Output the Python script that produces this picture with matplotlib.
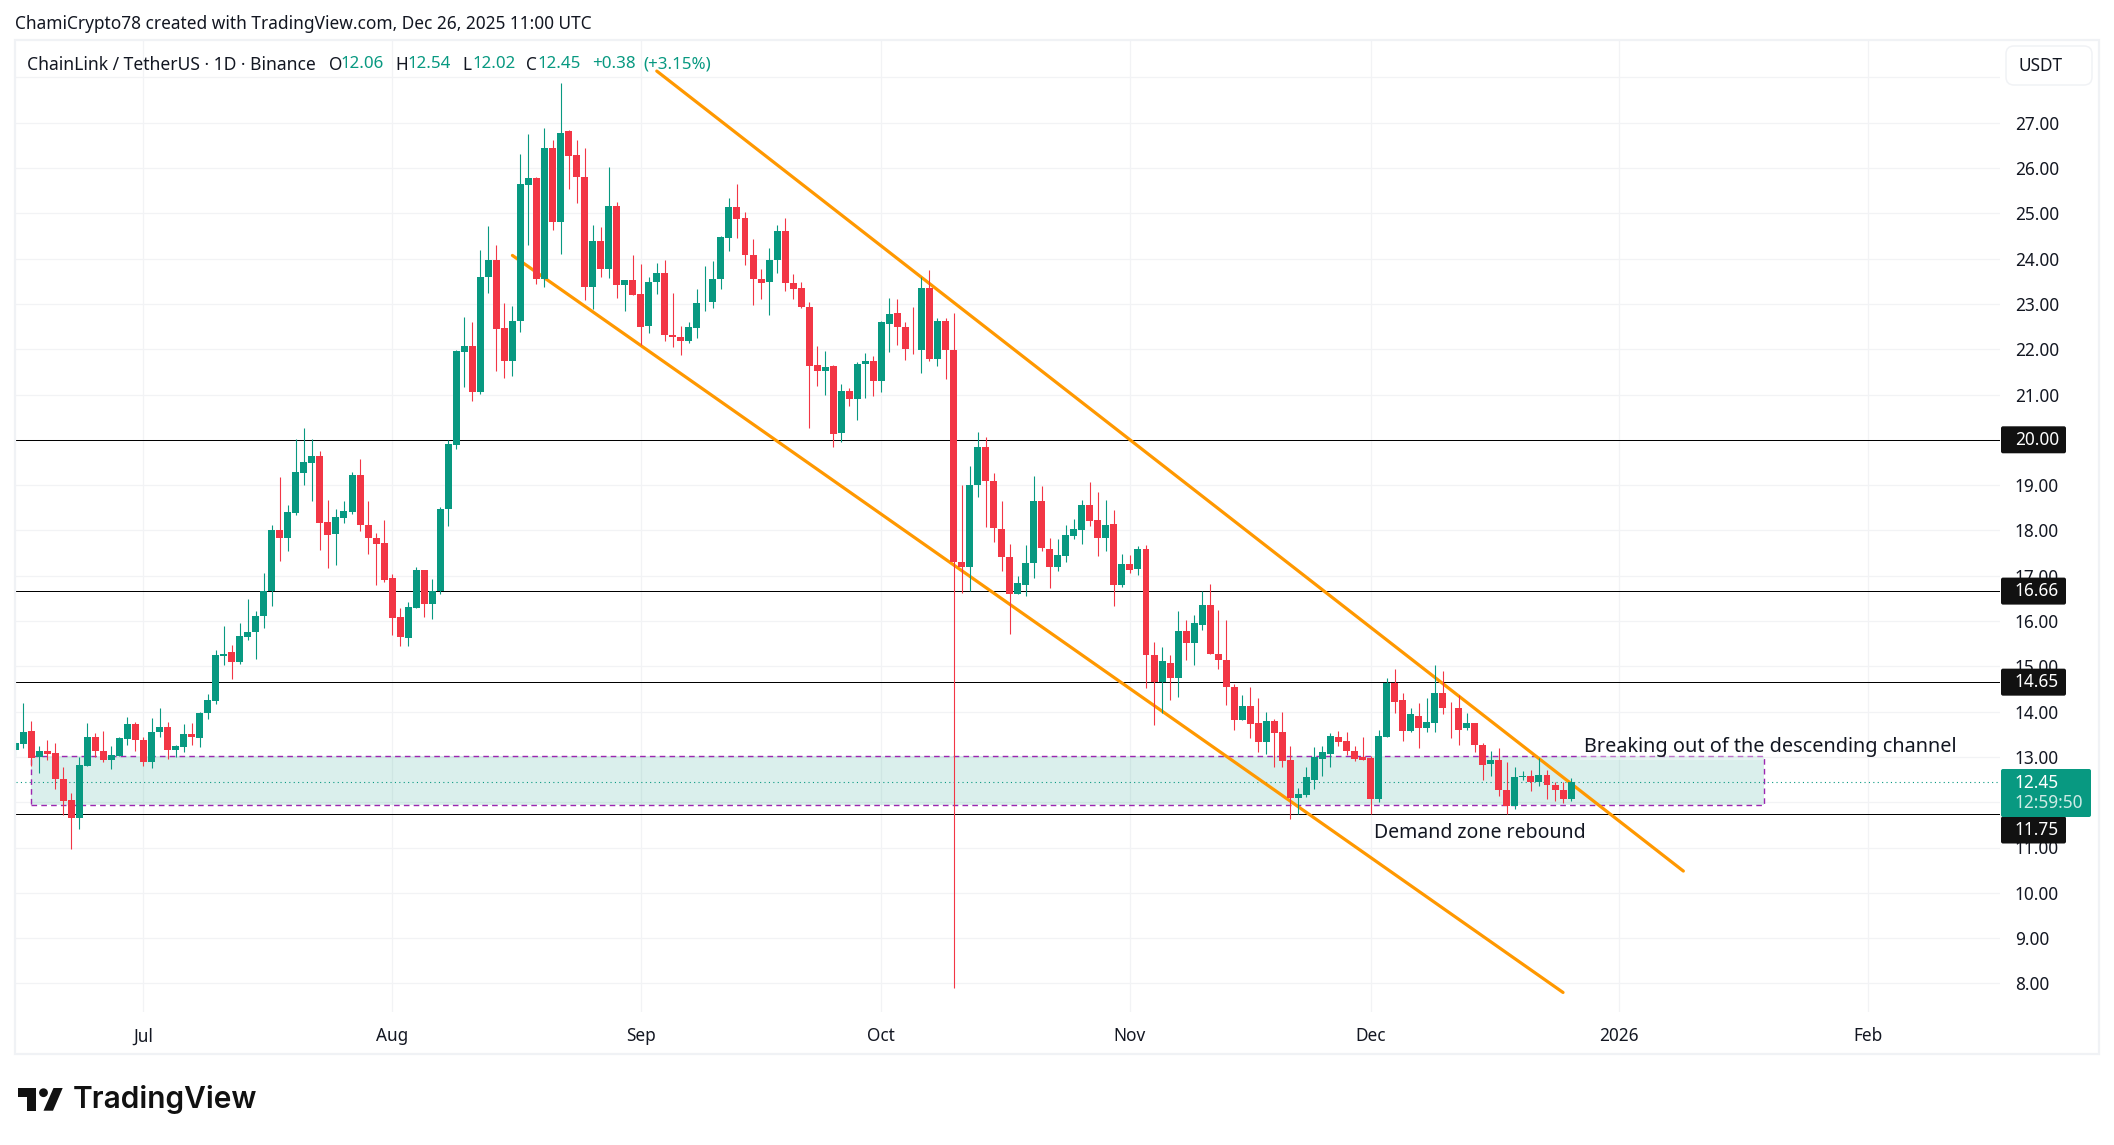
import numpy as np
import pandas as pd
import matplotlib
matplotlib.use("Agg")
import matplotlib.pyplot as plt
import matplotlib.dates as mdates
from matplotlib.patches import Rectangle, FancyBboxPatch, Circle, Polygon

plt.rcParams['font.family'] = ['Noto Sans', 'DejaVu Sans']

W, H = 2114, 1145
PX = 72 / 100  # one pixel in points at dpi 100

start_date = '2025-06-15'
end_date = '2025-12-26'

opens = [
    13.15, 13.28, 13.58, 12.99, 13.12, 13.08, 12.52, 12.04, 11.65, 12.81, 13.43, 13.14, 12.93, 13.03, 13.39, 13.72,
    13.38, 12.88, 13.55, 13.67, 13.15, 13.22, 13.50, 13.41, 13.97, 14.23, 15.22, 15.31, 15.09, 15.64, 15.75, 16.11,
    16.66, 18.00, 17.83, 18.38, 19.26, 19.48, 19.65, 18.18, 17.92, 18.27, 18.40, 19.23, 18.11, 17.84, 17.73,
    16.94, 16.08, 15.62, 16.28, 17.12, 16.37, 16.66, 18.47, 19.88, 21.93, 22.06, 21.05, 23.59, 23.98, 22.46, 21.74,
    22.62, 25.62, 25.79, 23.55, 26.45, 24.80, 26.81, 26.28, 25.81, 23.37, 24.38, 23.77, 25.17, 23.41, 23.52,
    23.21, 22.51, 23.48, 23.69, 22.32, 22.28, 22.18, 22.46, 23.04, 23.04, 23.55, 24.45, 25.13, 24.89, 24.09,
    23.56, 23.48, 23.98, 24.62, 23.47, 23.34, 22.94, 21.66, 21.52, 21.62, 20.15, 21.07, 20.90, 21.67, 21.73,
    21.29, 22.55, 22.79, 22.50, 22.01, 21.98, 23.36, 21.78, 22.63, 21.99, 17.31, 17.19, 19.00, 19.85, 19.10, 18.04,
    17.42, 16.59, 16.79, 17.28, 18.66, 17.60, 17.19, 17.43, 17.87, 18.01, 18.55, 18.22, 17.83, 18.15, 16.79,
    17.25, 17.14, 17.60, 15.26, 14.66, 15.08, 14.74, 15.79, 15.51, 15.91, 16.36, 15.28, 15.15, 14.55, 13.81,
    14.13, 13.74, 13.32, 13.80, 13.54, 12.94, 12.10, 12.15, 12.50, 12.96, 13.07, 13.45, 13.34, 13.12, 12.99,
    12.97, 12.06, 13.45, 14.64, 14.25, 13.58, 13.91, 13.63, 13.74, 14.42, 14.09, 14.07, 13.63, 13.74, 13.27,
    12.85, 12.94, 12.26, 11.91, 12.55, 12.57, 12.44, 12.59, 12.39, 12.28, 12.06,
]
highs = [
    13.35, 14.18, 13.80, 13.23, 13.38, 13.30, 12.77, 12.21, 12.99, 13.74, 13.52, 13.58, 13.23, 13.45, 13.89, 13.78,
    13.45, 13.85, 14.09, 13.78, 13.27, 13.72, 13.74, 14.00, 14.38, 15.35, 15.88, 15.48, 15.95, 16.48, 16.21, 17.05,
    18.11, 19.17, 18.55, 20.01, 20.27, 20.01, 19.76, 18.68, 18.48, 18.64, 19.30, 19.57, 18.64, 17.95, 18.24,
    17.03, 16.28, 16.41, 17.20, 17.12, 16.92, 18.51, 19.99, 21.99, 22.70, 22.61, 24.20, 24.73, 24.31, 23.03, 22.96,
    26.32, 26.76, 25.81, 26.89, 26.61, 27.87, 26.83, 26.61, 26.45, 24.75, 24.69, 26.03, 25.24, 23.52, 24.07,
    23.87, 23.60, 23.91, 23.96, 23.23, 22.52, 22.61, 23.32, 23.83, 23.94, 24.49, 25.33, 25.64, 25.02, 24.44,
    23.76, 24.24, 24.75, 24.89, 23.65, 23.49, 23.05, 22.06, 21.97, 21.66, 21.24, 21.15, 21.71, 21.91, 21.86,
    22.63, 23.12, 23.10, 22.61, 22.94, 23.60, 23.74, 22.68, 22.68, 22.79, 19.01, 19.43, 20.18, 20.07, 19.26, 18.64,
    17.69, 17.00, 17.67, 19.19, 18.97, 17.84, 17.80, 18.11, 18.26, 18.68, 19.06, 18.84, 18.68, 18.44, 17.47,
    17.45, 17.65, 17.67, 15.53, 15.42, 15.24, 16.23, 16.03, 16.14, 16.67, 16.81, 16.25, 16.03, 14.62, 14.36,
    14.55, 14.29, 14.00, 13.83, 14.00, 13.23, 12.32, 12.77, 13.21, 13.23, 13.52, 13.58, 13.56, 13.23, 13.43,
    13.03, 13.60, 14.75, 14.93, 14.40, 14.09, 14.18, 14.29, 15.02, 14.89, 14.22, 14.36, 13.98, 13.74, 13.30,
    13.14, 13.19, 12.88, 12.77, 12.68, 12.72, 12.97, 12.70, 12.44, 12.44, 12.54,
]
lows = [
    13.02, 13.19, 12.81, 12.64, 12.93, 12.30, 11.71, 10.96, 11.41, 12.79, 12.99, 12.88, 12.74, 13.01, 13.26, 13.13,
    12.80, 12.75, 13.44, 12.95, 12.99, 13.11, 13.26, 13.22, 13.83, 14.16, 15.03, 14.72, 15.05, 15.58, 15.16, 15.84,
    16.33, 17.32, 17.54, 18.34, 19.00, 18.65, 17.56, 17.17, 17.23, 18.16, 18.36, 17.98, 17.48, 16.79, 16.86,
    15.69, 15.45, 15.45, 16.28, 16.09, 16.04, 16.59, 18.09, 19.79, 21.16, 20.85, 21.01, 23.24, 21.52, 21.36, 21.40,
    22.38, 24.30, 23.44, 23.37, 24.63, 24.10, 25.53, 25.22, 23.08, 22.88, 23.59, 23.57, 23.13, 22.84, 23.19,
    22.10, 22.35, 23.21, 22.18, 22.04, 21.87, 22.13, 22.24, 22.84, 22.91, 23.33, 24.16, 24.45, 23.86, 22.97,
    23.10, 22.75, 23.68, 23.28, 23.10, 22.91, 20.26, 21.18, 20.99, 19.84, 19.95, 20.74, 20.43, 20.92, 20.96,
    21.05, 21.93, 22.09, 21.76, 21.89, 21.47, 21.75, 21.63, 21.34, 7.90, 16.62, 16.67, 18.73, 18.07, 17.74, 17.10,
    15.71, 16.59, 16.55, 16.95, 17.54, 16.73, 17.10, 17.30, 17.81, 17.70, 18.09, 17.43, 17.54, 16.33, 16.75,
    17.06, 17.01, 14.52, 13.70, 13.98, 14.25, 14.32, 15.14, 15.03, 15.80, 15.27, 14.94, 14.14, 13.59, 13.81,
    13.41, 13.10, 13.07, 12.77, 12.77, 11.62, 11.75, 12.12, 12.30, 12.57, 12.77, 13.23, 13.05, 12.92, 12.94,
    11.74, 12.00, 13.43, 13.98, 13.36, 13.56, 13.19, 13.56, 13.54, 13.94, 13.41, 13.27, 13.60, 13.10, 12.48,
    12.57, 12.13, 11.74, 11.84, 12.48, 12.24, 12.35, 12.08, 12.02, 11.99, 12.02,
]
closes = [
    13.30, 13.56, 12.97, 13.12, 13.06, 12.51, 12.02, 11.65, 12.83, 13.43, 13.13, 12.93, 13.05, 13.41, 13.72, 13.37,
    12.88, 13.56, 13.67, 13.15, 13.23, 13.50, 13.44, 13.96, 14.25, 15.24, 15.28, 15.09, 15.66, 15.75, 16.12, 16.67,
    18.00, 17.83, 18.40, 19.28, 19.50, 19.65, 18.16, 17.90, 18.29, 18.42, 19.23, 18.12, 17.83, 17.70, 16.90,
    16.06, 15.64, 16.30, 17.12, 16.37, 16.67, 18.48, 19.90, 21.95, 22.06, 21.05, 23.60, 23.98, 22.44, 21.74, 22.63,
    25.64, 25.77, 23.55, 26.45, 24.80, 26.78, 26.26, 25.80, 23.37, 24.38, 23.77, 25.17, 23.41, 23.52, 23.19,
    22.49, 23.49, 23.69, 22.31, 22.26, 22.18, 22.48, 23.03, 23.05, 23.56, 24.47, 25.13, 24.87, 24.08, 23.55,
    23.46, 23.98, 24.62, 23.46, 23.33, 22.94, 21.63, 21.52, 21.60, 20.12, 21.07, 20.90, 21.68, 21.75, 21.29,
    22.59, 22.77, 22.49, 22.00, 22.00, 23.36, 21.78, 22.63, 21.98, 17.30, 17.19, 19.01, 19.85, 19.09, 18.05, 17.41,
    16.59, 16.83, 17.29, 18.66, 17.61, 17.19, 17.45, 17.89, 18.02, 18.55, 18.20, 17.83, 18.13, 16.79, 17.25,
    17.12, 17.58, 15.25, 14.66, 15.11, 14.74, 15.79, 15.51, 15.95, 16.36, 15.27, 15.14, 14.54, 13.81, 14.13,
    13.72, 13.32, 13.80, 13.52, 12.92, 12.10, 12.17, 12.55, 12.99, 13.10, 13.47, 13.32, 13.12, 12.96, 12.94,
    12.06, 13.47, 14.64, 14.22, 13.58, 13.94, 13.63, 13.76, 14.42, 14.09, 14.07, 13.60, 13.74, 13.27, 12.83,
    12.94, 12.26, 11.91, 12.55, 12.57, 12.44, 12.59, 12.37, 12.26, 12.06, 12.45,
]

levels = [20.00, 16.66, 14.65, 11.75]
last_price = 12.45
y_ticks = list(range(8, 29))
month_ticks = ['2025-07-01', '2025-08-01', '2025-09-01', '2025-10-01', '2025-11-01', '2025-12-01', '2026-01-01', '2026-02-01']
month_labels = ['Jul', 'Aug', 'Sep', 'Oct', 'Nov', 'Dec', '2026', 'Feb']

upper_dates, upper_prices = ['2025-09-03', '2026-01-09'], [28.14, 10.48]
lower_dates, lower_prices = ['2025-08-16', '2025-12-25'], [24.07, 7.80]
zone_dates, zone_prices = ['2025-06-17', '2026-01-19'], [11.94, 13.02]

GREEN = '#089981'
RED = '#F23645'
INK = '#131722'
TAG = '#111111'
GRID = '#F2F3F5'
ORANGE = '#FF9800'
PURPLE = '#9C27B0'
BORDER = '#F0F2F5'

dates = pd.date_range(start_date, end_date)
x = mdates.date2num(dates)
o = np.array(opens)
h = np.array(highs)
l = np.array(lows)
c = np.array(closes)
colors = np.where(c >= o, GREEN, RED)


def num(days):
    return mdates.date2num(pd.to_datetime(days))


fig = plt.figure(figsize=(W / 100, H / 100), dpi=100, facecolor='white')
left, right, top, bottom = 16, 2000, 40, 1012
ax = fig.add_axes([left / W, 1 - bottom / H, (right - left) / W, (bottom - top) / H])

day_px = 8.02
jul1 = num('2025-07-01')
ax.set_xlim(jul1 + (left - 143.5) / day_px, jul1 + (right - 143.5) / day_px)
ax.set_ylim(20 - (bottom - 439.8) / 45.3, 20 - (top - 439.8) / 45.3)

for s in ax.spines.values():
    s.set_visible(False)
ax.yaxis.tick_right()
ax.set_yticks(y_ticks)
ax.set_yticklabels([f'{v:.2f}' if v < 28 else '' for v in y_ticks], fontsize=12.4, color=INK)
ax.set_xticks(num(month_ticks))
ax.set_xticklabels(month_labels, fontsize=12.4, color=INK)
ax.tick_params(axis='both', length=0)
ax.tick_params(axis='y', pad=10.8)
ax.tick_params(axis='x', pad=11)
ax.grid(True, color=GRID, lw=1.2 * PX, zorder=0)
ax.set_axisbelow(True)

# demand zone
z0, z1 = num(zone_dates)
ax.add_patch(Rectangle((z0, zone_prices[0]), z1 - z0, zone_prices[1] - zone_prices[0],
                       facecolor=GREEN, alpha=0.15, edgecolor='none', zorder=1))
ax.add_patch(Rectangle((z0, zone_prices[0]), z1 - z0, zone_prices[1] - zone_prices[0],
                       facecolor='none', edgecolor=PURPLE, lw=1.4 * PX, ls=(0, (4, 3)), zorder=1.2))

for lv in levels:
    ax.axhline(lv, color='black', lw=1.0 * PX, zorder=2)
ax.axhline(last_price, color=GREEN, lw=1.1 * PX, ls=(0, (1, 3)), zorder=2)

ax.plot(num(upper_dates), upper_prices, color=ORANGE, lw=3.2 * PX, solid_capstyle='round', zorder=2.5)
ax.plot(num(lower_dates), lower_prices, color=ORANGE, lw=3.2 * PX, solid_capstyle='round', zorder=2.5)

ax.vlines(x, l, h, colors=colors, lw=1.1 * PX, zorder=3)
ax.bar(x, np.abs(c - o), bottom=np.minimum(o, c), width=7 / day_px, color=colors, linewidth=0, zorder=3.1)

# everything around the pane, in figure pixels
over = fig.add_axes([0, 0, 1, 1], zorder=5)
over.set_xlim(0, W)
over.set_ylim(H, 0)
over.axis('off')
over.patch.set_alpha(0)


def price_y(p):
    return H - ax.transData.transform((ax.get_xlim()[0], p))[1]


def txt(px, py, s, color=INK, size=12.4, **kw):
    kw.setdefault('va', 'center')
    over.text(px, py, s, color=color, fontsize=size, **kw)


over.add_patch(Rectangle((14.5, 40), 2084.5, 1014, facecolor='none', edgecolor=BORDER, lw=2.2 * PX))
over.add_patch(FancyBboxPatch((2010, 50), 78, 31, boxstyle='round,pad=4,rounding_size=8',
                              facecolor='white', edgecolor=BORDER, lw=1.5 * PX))
txt(2041, 66, 'USDT', ha='center', size=12.4)

txt(15, 24, 'ChamiCrypto78 created with TradingView.com, Dec 26, 2025 11:00 UTC', size=12.45)
txt(27, 64.5, 'ChainLink / TetherUS · 1D · Binance', size=12.6)
for px, s in [(329, 'O'), (395, 'H'), (462, 'L'), (526, 'C')]:
    txt(px, 64.5, s, size=12.4)
for px, s in [(340, '12.06'), (407, '12.54'), (472, '12.02'), (537, '12.45'), (592, '+0.38'), (643, '(+3.15%)')]:
    txt(px, 64.5, s, color=GREEN, size=12.2)

# the label's own backdrop lightens the top of the zone a little
over.add_patch(Rectangle((1580, 755), 184, 5, facecolor='white', alpha=0.35, edgecolor='none'))
over.text(1584, 747, 'Breaking out of the descending channel', color=INK, fontsize=14.3, va='center')
over.text(1374, 833, 'Demand zone rebound', color=INK, fontsize=14, va='center')

# price tags on the axis
tag_y = {20.00: price_y(20.00), 16.66: price_y(16.66), 14.65: price_y(14.65), 11.75: 830}
for lv in levels:
    yc = tag_y[lv]
    over.add_patch(FancyBboxPatch((2003, yc - 11.5), 61, 23, boxstyle='round,pad=2,rounding_size=2',
                                  facecolor=TAG, edgecolor='none', zorder=3))
    over.text(2015, yc, f'{lv:.2f}', color='white', fontsize=12.4, fontweight='medium', va='center', zorder=4)

over.add_patch(FancyBboxPatch((2003, 771), 86, 44, boxstyle='round,pad=2,rounding_size=2',
                              facecolor=GREEN, edgecolor='none', zorder=5))
over.text(2015, 783, f'{last_price:.2f}', color='white', fontsize=12.4, fontweight='medium', va='center', zorder=6)
over.text(2015, 803, '12:59:50', color='#CFEBE6', fontsize=12.4, va='center', zorder=6)

# logo
over.add_patch(Polygon([(18, 1088), (36, 1088), (36, 1110.7), (26.7, 1110.7), (26.7, 1097), (18, 1097)],
                       facecolor=TAG, edgecolor='none'))
over.add_patch(Circle((43.5, 1092.7), 4.4, facecolor=TAG, edgecolor='none'))
over.add_patch(Polygon([(53.5, 1088), (62.7, 1088), (53, 1110.7), (43.5, 1110.7)],
                       facecolor=TAG, edgecolor='none'))
over.text(73, 1099, 'TradingView', color=TAG, fontsize=21.5, family='Inter', fontweight='semibold', va='center')

fig.savefig('out.png', dpi=100)
